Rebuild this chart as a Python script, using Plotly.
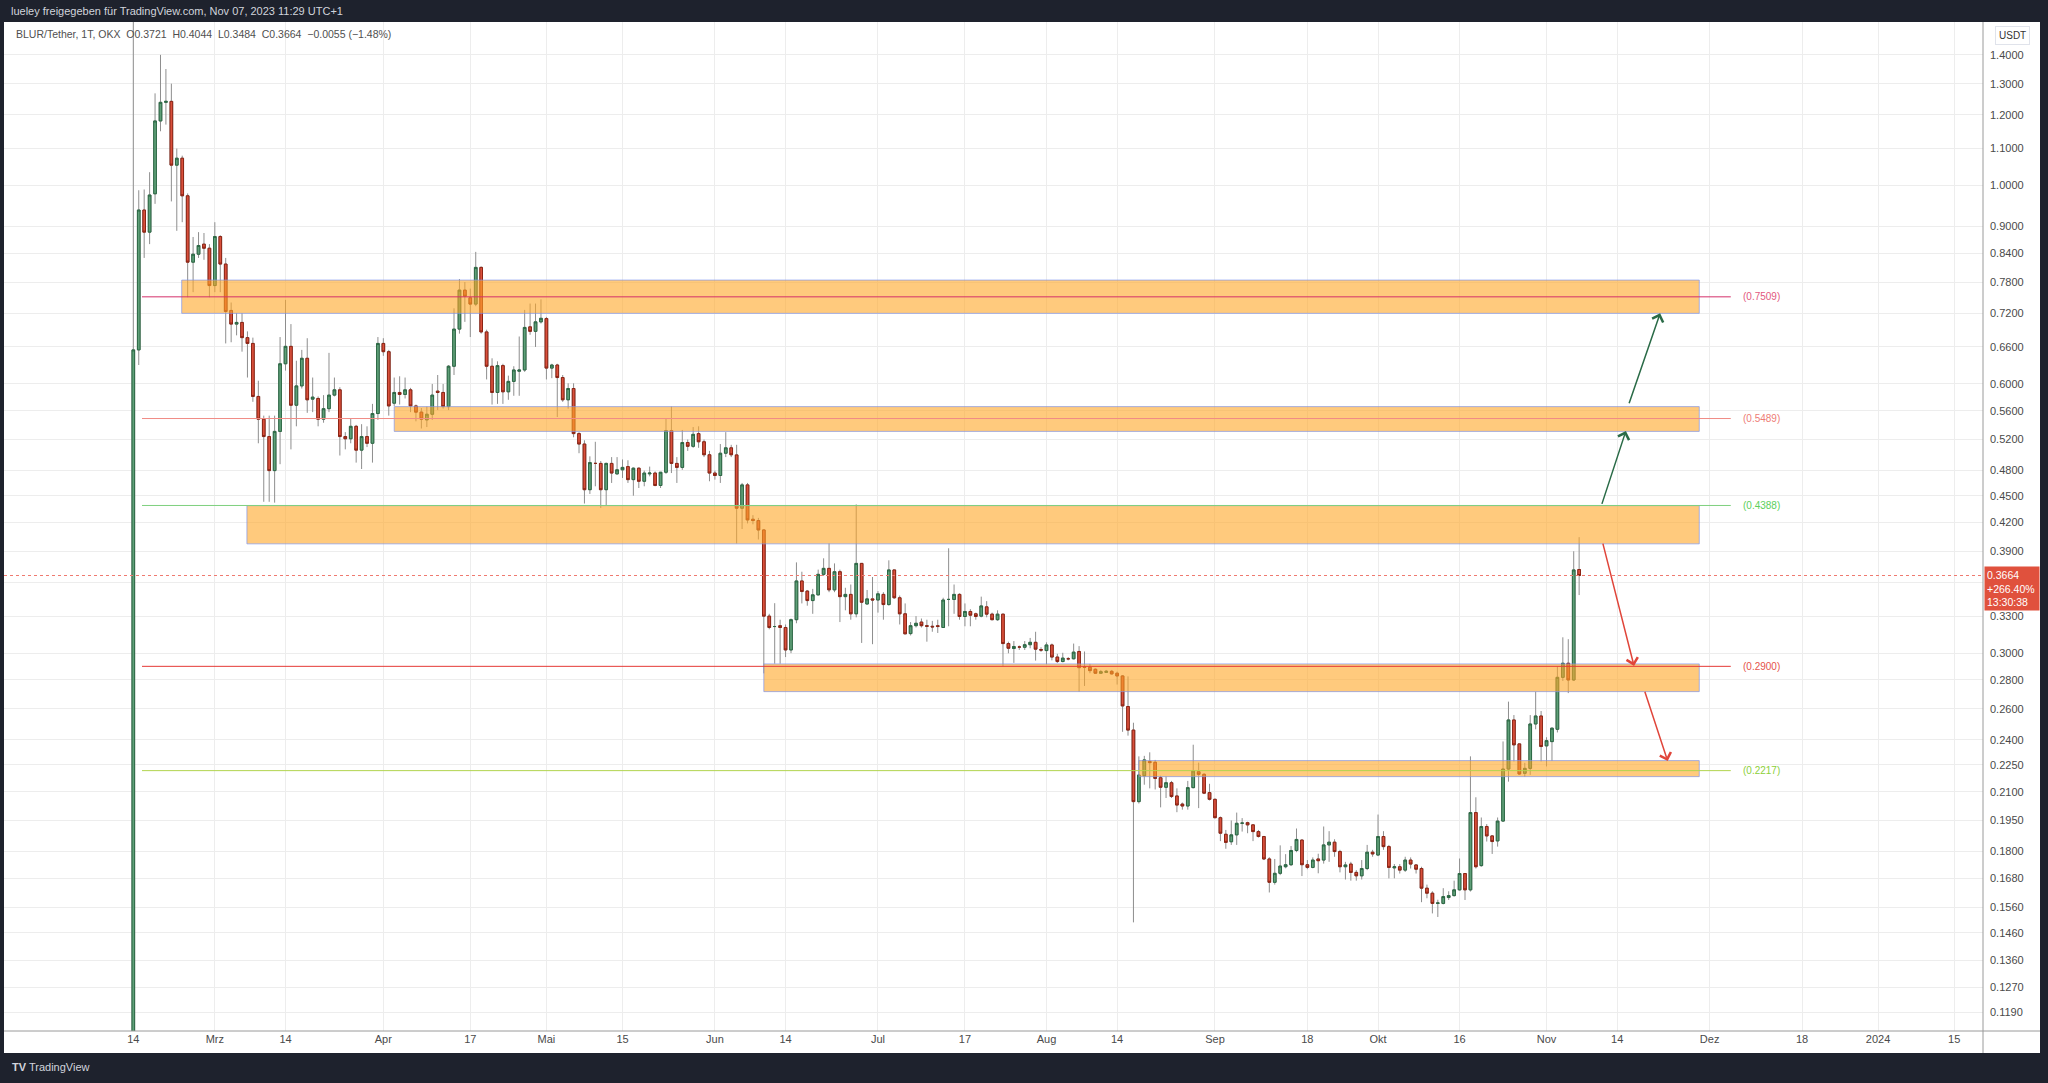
import numpy as np
import pandas as pd
import plotly.graph_objects as go

FIRST_DAY = "2023-02-14"

open_ = [
    0.100, 0.655, 0.939, 0.887, 0.979, 1.181, 1.239, 1.242, 1.054, 1.073,
    0.974, 0.821, 0.838, 0.860, 0.851, 0.773, 0.877, 0.817, 0.725, 0.700,
    0.703, 0.676, 0.666, 0.581, 0.548, 0.524, 0.480, 0.531, 0.632, 0.661,
    0.568, 0.597, 0.641, 0.577, 0.578, 0.548, 0.563, 0.583, 0.591, 0.524,
    0.521, 0.538, 0.506, 0.524, 0.515, 0.556, 0.666, 0.652, 0.571, 0.587,
    0.584, 0.591, 0.567, 0.558, 0.547, 0.555, 0.589, 0.587, 0.566, 0.628,
    0.691, 0.764, 0.749, 0.737, 0.810, 0.686, 0.628, 0.587, 0.629, 0.588,
    0.604, 0.620, 0.622, 0.695, 0.687, 0.704, 0.710, 0.625, 0.630, 0.610,
    0.576, 0.593, 0.528, 0.514, 0.457, 0.489, 0.489, 0.457, 0.489, 0.476,
    0.481, 0.485, 0.469, 0.483, 0.467, 0.476, 0.477, 0.462, 0.478, 0.532,
    0.489, 0.484, 0.516, 0.511, 0.528, 0.517, 0.500, 0.477, 0.474, 0.502,
    0.509, 0.4998, 0.4357, 0.4627, 0.4235, 0.4221, 0.412, 0.330, 0.3213, 0.322,
    0.3205, 0.3025, 0.327, 0.3613, 0.352, 0.3435, 0.3486, 0.3675, 0.3732, 0.3531,
    0.370, 0.347, 0.349, 0.332, 0.378, 0.3405, 0.345, 0.344, 0.349, 0.340,
    0.3717, 0.346, 0.332, 0.3155, 0.322, 0.325, 0.322, 0.3215, 0.322, 0.3205,
    0.3445, 0.3445, 0.349, 0.3297, 0.334, 0.332, 0.330, 0.338, 0.3317, 0.327,
    0.3317, 0.3075, 0.3036, 0.3048, 0.3046, 0.3066, 0.3085, 0.3028, 0.302, 0.3064,
    0.297, 0.2936, 0.2957, 0.2957, 0.3013, 0.2895, 0.2893, 0.2878, 0.2849, 0.2855,
    0.2863, 0.2849, 0.2829, 0.2615, 0.2461, 0.2047, 0.2188, 0.227, 0.2265, 0.2177,
    0.2124, 0.2149, 0.2077, 0.2034, 0.2024, 0.2122, 0.2211, 0.2196, 0.2095, 0.2059,
    0.1964, 0.1882, 0.1846, 0.1879, 0.1936, 0.1939, 0.1928, 0.1895, 0.1871, 0.1766,
    0.1663, 0.1702, 0.1731, 0.174, 0.1805, 0.1854, 0.174, 0.1728, 0.1766, 0.1761,
    0.1831, 0.1844, 0.18, 0.1731, 0.1743, 0.1706, 0.1691, 0.1723, 0.1797, 0.1784,
    0.1871, 0.1823, 0.1726, 0.1731, 0.1716, 0.1761, 0.1739, 0.1723, 0.1638, 0.1617,
    0.1575, 0.1575, 0.1599, 0.1607, 0.1631, 0.1701, 0.1631, 0.199, 0.1736, 0.192,
    0.1874, 0.185, 0.1947, 0.2226, 0.2526, 0.2375, 0.2202, 0.223, 0.25, 0.2552,
    0.2363, 0.2389, 0.2466, 0.2819, 0.2923, 0.280, 0.3721,
]
high_ = [
    2.000, 0.988, 0.990, 1.035, 1.268, 1.400, 1.350, 1.300, 1.100, 1.080,
    0.980, 0.876, 0.887, 0.885, 0.860, 0.910, 0.880, 0.830, 0.740, 0.720,
    0.720, 0.687, 0.676, 0.605, 0.553, 0.553, 0.553, 0.677, 0.745, 0.700,
    0.637, 0.655, 0.675, 0.610, 0.581, 0.583, 0.650, 0.610, 0.595, 0.530,
    0.549, 0.540, 0.541, 0.538, 0.570, 0.677, 0.675, 0.655, 0.610, 0.612,
    0.610, 0.594, 0.569, 0.564, 0.566, 0.600, 0.614, 0.600, 0.630, 0.729,
    0.786, 0.780, 0.767, 0.843, 0.812, 0.690, 0.641, 0.636, 0.632, 0.613,
    0.628, 0.678, 0.726, 0.738, 0.738, 0.746, 0.713, 0.632, 0.632, 0.614,
    0.601, 0.601, 0.530, 0.519, 0.498, 0.517, 0.492, 0.490, 0.497, 0.497,
    0.494, 0.493, 0.484, 0.484, 0.480, 0.485, 0.479, 0.478, 0.549, 0.566,
    0.497, 0.533, 0.520, 0.537, 0.538, 0.520, 0.505, 0.480, 0.514, 0.530,
    0.513, 0.513, 0.465, 0.465, 0.428, 0.425, 0.413, 0.332, 0.3412, 0.327,
    0.323, 0.328, 0.379, 0.370, 0.353, 0.354, 0.372, 0.383, 0.398, 0.378,
    0.372, 0.355, 0.358, 0.440, 0.378, 0.353, 0.365, 0.352, 0.351, 0.381,
    0.3717, 0.348, 0.341, 0.325, 0.330, 0.328, 0.327, 0.326, 0.327, 0.346,
    0.393, 0.358, 0.350, 0.341, 0.336, 0.333, 0.347, 0.343, 0.333, 0.335,
    0.332, 0.309, 0.3095, 0.306, 0.3095, 0.312, 0.317, 0.3046, 0.3085, 0.3075,
    0.2995, 0.3003, 0.297, 0.3075, 0.3055, 0.3013, 0.2918, 0.2885, 0.2873, 0.2873,
    0.2873, 0.2861, 0.2836, 0.2826, 0.2508, 0.230, 0.2303, 0.2324, 0.2279, 0.2188,
    0.2184, 0.2159, 0.2118, 0.2042, 0.2159, 0.237, 0.2263, 0.2203, 0.2143, 0.2064,
    0.197, 0.1903, 0.195, 0.199, 0.1962, 0.1944, 0.1931, 0.1903, 0.1874, 0.1774,
    0.1766, 0.1829, 0.1788, 0.1826, 0.191, 0.1857, 0.1761, 0.1773, 0.179, 0.192,
    0.1897, 0.1858, 0.1808, 0.1753, 0.1753, 0.1716, 0.1761, 0.1831, 0.1808, 0.198,
    0.1897, 0.1831, 0.1743, 0.1743, 0.1776, 0.1773, 0.1743, 0.1731, 0.1653, 0.1625,
    0.159, 0.1638, 0.1625, 0.167, 0.1768, 0.1701, 0.230, 0.207, 0.1965, 0.1932,
    0.1878, 0.1965, 0.239, 0.2648, 0.2558, 0.2375, 0.2262, 0.2558, 0.2717, 0.2585,
    0.2416, 0.2478, 0.2898, 0.3125, 0.311, 0.390, 0.4044,
]
low_ = [
    0.090, 0.630, 0.830, 0.860, 0.954, 1.150, 1.170, 0.960, 0.890, 0.910,
    0.750, 0.760, 0.830, 0.826, 0.750, 0.760, 0.760, 0.666, 0.668, 0.680,
    0.652, 0.610, 0.573, 0.515, 0.443, 0.443, 0.442, 0.488, 0.621, 0.507,
    0.538, 0.593, 0.557, 0.558, 0.538, 0.543, 0.558, 0.581, 0.499, 0.507,
    0.515, 0.490, 0.482, 0.510, 0.490, 0.547, 0.645, 0.553, 0.567, 0.569,
    0.578, 0.558, 0.545, 0.535, 0.537, 0.547, 0.561, 0.563, 0.561, 0.614,
    0.683, 0.704, 0.677, 0.733, 0.683, 0.607, 0.569, 0.570, 0.570, 0.576,
    0.582, 0.582, 0.619, 0.681, 0.660, 0.701, 0.607, 0.609, 0.551, 0.573,
    0.563, 0.523, 0.502, 0.441, 0.452, 0.461, 0.436, 0.439, 0.465, 0.475,
    0.471, 0.465, 0.450, 0.459, 0.461, 0.473, 0.461, 0.459, 0.476, 0.477,
    0.465, 0.481, 0.505, 0.509, 0.509, 0.497, 0.467, 0.469, 0.465, 0.497,
    0.497, 0.398, 0.413, 0.419, 0.418, 0.402, 0.2848, 0.319, 0.292, 0.292,
    0.297, 0.300, 0.324, 0.341, 0.339, 0.332, 0.348, 0.366, 0.351, 0.351,
    0.325, 0.335, 0.327, 0.329, 0.308, 0.340, 0.307, 0.333, 0.327, 0.339,
    0.345, 0.323, 0.315, 0.314, 0.3205, 0.3205, 0.309, 0.317, 0.316, 0.3205,
    0.3215, 0.332, 0.327, 0.3215, 0.3215, 0.327, 0.329, 0.329, 0.3265, 0.326,
    0.290, 0.2999, 0.2926, 0.3025, 0.3025, 0.3038, 0.2943, 0.301, 0.2915, 0.2945,
    0.2925, 0.293, 0.2945, 0.2952, 0.2717, 0.2757, 0.2849, 0.2844, 0.2844, 0.2853,
    0.284, 0.2767, 0.245, 0.2426, 0.150, 0.2037, 0.2138, 0.2118, 0.2112, 0.2017,
    0.2066, 0.2066, 0.1992, 0.2005, 0.2005, 0.2118, 0.2013, 0.2087, 0.2053, 0.1961,
    0.1849, 0.1813, 0.1831, 0.1831, 0.1895, 0.1887, 0.1849, 0.1866, 0.1761, 0.162,
    0.1653, 0.1694, 0.1724, 0.1734, 0.1797, 0.169, 0.172, 0.1724, 0.1702, 0.1745,
    0.1753, 0.1776, 0.1706, 0.1675, 0.167, 0.167, 0.1675, 0.1716, 0.1776, 0.1779,
    0.1808, 0.168, 0.168, 0.1701, 0.1708, 0.1723, 0.1701, 0.158, 0.1596, 0.1535,
    0.1521, 0.1571, 0.1589, 0.1603, 0.1628, 0.1589, 0.1624, 0.1723, 0.1731, 0.1847,
    0.1789, 0.1823, 0.1943, 0.2155, 0.227, 0.2193, 0.2183, 0.2193, 0.2466, 0.227,
    0.2241, 0.2273, 0.2446, 0.2793, 0.2707, 0.2793, 0.3484,
]
close_ = [
    0.655, 0.939, 0.887, 0.976, 1.181, 1.239, 1.242, 1.054, 1.073, 0.974,
    0.821, 0.838, 0.857, 0.851, 0.773, 0.877, 0.817, 0.723, 0.700, 0.703,
    0.676, 0.666, 0.581, 0.548, 0.524, 0.480, 0.531, 0.632, 0.661, 0.568,
    0.597, 0.641, 0.576, 0.580, 0.548, 0.563, 0.583, 0.591, 0.524, 0.521,
    0.538, 0.506, 0.524, 0.515, 0.556, 0.666, 0.652, 0.567, 0.587, 0.584,
    0.591, 0.567, 0.558, 0.548, 0.555, 0.583, 0.587, 0.566, 0.628, 0.691,
    0.764, 0.752, 0.737, 0.810, 0.686, 0.628, 0.587, 0.629, 0.588, 0.604,
    0.622, 0.622, 0.694, 0.687, 0.704, 0.7105, 0.625, 0.630, 0.610, 0.576,
    0.593, 0.528, 0.514, 0.457, 0.490, 0.489, 0.457, 0.489, 0.477, 0.481,
    0.484, 0.469, 0.483, 0.467, 0.477, 0.477, 0.462, 0.478, 0.532, 0.489,
    0.484, 0.516, 0.511, 0.527, 0.517, 0.500, 0.477, 0.474, 0.502, 0.509,
    0.500, 0.4357, 0.4627, 0.4228, 0.4221, 0.412, 0.330, 0.3205, 0.3213, 0.3205,
    0.3025, 0.327, 0.3613, 0.3516, 0.3435, 0.3486, 0.3675, 0.3732, 0.3531, 0.370,
    0.347, 0.349, 0.332, 0.378, 0.342, 0.345, 0.344, 0.3495, 0.340, 0.3717,
    0.346, 0.332, 0.3153, 0.322, 0.324, 0.322, 0.3215, 0.321, 0.3213, 0.344,
    0.3445, 0.349, 0.3297, 0.334, 0.3308, 0.3297, 0.3388, 0.3317, 0.327, 0.3317,
    0.3075, 0.3038, 0.3052, 0.3048, 0.3066, 0.3085, 0.3031, 0.3024, 0.3064, 0.297,
    0.2936, 0.2962, 0.2957, 0.3008, 0.289, 0.2893, 0.2868, 0.2849, 0.286, 0.2863,
    0.2844, 0.2829, 0.2619, 0.2461, 0.2047, 0.2192, 0.2279, 0.2263, 0.2173, 0.2124,
    0.2149, 0.2074, 0.2029, 0.2024, 0.2122, 0.2215, 0.2196, 0.2092, 0.2059, 0.1964,
    0.1887, 0.1843, 0.1879, 0.1936, 0.1937, 0.1928, 0.1895, 0.1871, 0.1766, 0.1663,
    0.1702, 0.1734, 0.174, 0.1805, 0.1857, 0.174, 0.1728, 0.1761, 0.1758, 0.1831,
    0.1844, 0.18, 0.1731, 0.1739, 0.1706, 0.1691, 0.1723, 0.1797, 0.1789, 0.1871,
    0.1823, 0.1728, 0.1731, 0.1716, 0.1761, 0.1743, 0.172, 0.1638, 0.1617, 0.1575,
    0.1577, 0.1603, 0.1607, 0.1631, 0.1701, 0.1631, 0.199, 0.1731, 0.192, 0.1874,
    0.1847, 0.1947, 0.2226, 0.2526, 0.2369, 0.2198, 0.223, 0.25, 0.2552, 0.2359,
    0.2395, 0.2473, 0.2819, 0.2923, 0.280, 0.3717, 0.3664,
]

# grid levels of the price scale; 0.36 has a grid line but its label is hidden by the price tag
y_ticks = [1.4, 1.3, 1.2, 1.1, 1.0, 0.9, 0.84, 0.78, 0.72, 0.66, 0.6, 0.56, 0.52,
           0.48, 0.45, 0.42, 0.39, 0.36, 0.33, 0.30, 0.28, 0.26, 0.24, 0.225,
           0.21, 0.195, 0.18, 0.168, 0.156, 0.146, 0.136, 0.127, 0.119]
hidden_y_labels = [0.36]
x_tick_dates = ["2023-02-14", "2023-03-01", "2023-03-14", "2023-04-01", "2023-04-17",
                "2023-05-01", "2023-05-15", "2023-06-01", "2023-06-14", "2023-07-01",
                "2023-07-17", "2023-08-01", "2023-08-14", "2023-09-01", "2023-09-18",
                "2023-10-01", "2023-10-16", "2023-11-01", "2023-11-14", "2023-12-01",
                "2023-12-18", "2024-01-01", "2024-01-15"]
x_tick_text = ["14", "Mrz", "14", "Apr", "17", "Mai", "15", "Jun", "14", "Jul", "17",
               "Aug", "14", "Sep", "18", "Okt", "16", "Nov", "14", "Dez", "18", "2024", "15"]

level_values = [0.7509, 0.5489, 0.4388, 0.2900, 0.2217]
level_colors = ["#d4306a", "#f08c86", "#7fd07f", "#e53935", "#b2d44e"]
level_text_colors = ["#e2587e", "#ee7c76", "#5ccf5c", "#e5534b", "#8ccf3a"]

zone_top = [0.784, 0.566, 0.4386, 0.2918, 0.2275]
zone_bottom = [0.7196, 0.531, 0.3975, 0.2717, 0.2183]
zone_start_day = [8.9, 48.0, 20.9, 116.0, 185.0]
zone_end_day = 288.1
level_start_day, level_end_day, level_label_day = 1.6, 293.9, 295.8

# hand-drawn arrows: (start day, start price, end day, end price, color)
arrow_start_day = [270.1, 275.1, 270.3, 278.0]
arrow_start_price = [0.4389, 0.5686, 0.3993, 0.2726]
arrow_end_day = [274.6, 280.9, 276.1, 282.3]
arrow_end_price = [0.5316, 0.7196, 0.2903, 0.2272]
arrow_colors = ["#2a6b47", "#2a6b47", "#e0453a", "#e0453a"]

last_price = 0.3664
header_text = ("BLUR/Tether, 1T, OKX\u00a0\u00a0O0.3721\u00a0\u00a0H0.4044\u00a0\u00a0"
               "L0.3484\u00a0\u00a0C0.3664\u00a0\u00a0\u22120.0055 (\u22121.48%)")
top_text = "lueley freigegeben für TradingView.com, Nov 07, 2023 11:29 UTC+1"
price_box_text = "0.3664<br>+266.40%<br>13:30:38"

# ---------------------------------------------------------------------------
n = min(len(open_), len(high_), len(low_), len(close_))
o = np.array(open_[:n]); h = np.array(high_[:n]); l = np.array(low_[:n]); c = np.array(close_[:n])
h = np.maximum(h, np.maximum(o, c))
l = np.minimum(l, np.minimum(o, c))
dates = pd.date_range(FIRST_DAY, periods=n, freq="D")
base = pd.Timestamp(FIRST_DAY)


def day(x):
    return base + pd.Timedelta(days=float(x))


x_range = [day(-23.79), day(340.3)]

INC_FILL, INC_LINE = "#5f9f78", "#2b6844"
DEC_FILL, DEC_LINE = "#d9503c", "#8c2414"
WICK = "#8e8e8e"

fig = go.Figure()
# wicks
fig.add_trace(go.Candlestick(
    x=dates, open=o, high=h, low=l, close=c,
    increasing=dict(line=dict(color=WICK, width=1), fillcolor=INC_FILL),
    decreasing=dict(line=dict(color=WICK, width=1), fillcolor=DEC_FILL),
    hoverinfo="skip"))
# bodies
fig.add_trace(go.Candlestick(
    x=dates, open=o, high=np.maximum(o, c), low=np.minimum(o, c), close=c,
    increasing=dict(line=dict(color=INC_LINE, width=1), fillcolor=INC_FILL),
    decreasing=dict(line=dict(color=DEC_LINE, width=1), fillcolor=DEC_FILL),
    hoverinfo="skip"))

# zones
for top, bot, s in zip(zone_top, zone_bottom, zone_start_day):
    xs = [day(s), day(zone_end_day), day(zone_end_day), day(s), day(s)]
    ys = [bot, bot, top, top, bot]
    fig.add_trace(go.Scatter(x=xs, y=ys, mode="lines", fill="toself",
                             fillcolor="rgba(255,167,38,0.6)",
                             line=dict(color="rgba(120,145,240,0.65)", width=1),
                             hoverinfo="skip"))

# level lines
for v, col in zip(level_values, level_colors):
    fig.add_trace(go.Scatter(x=[day(level_start_day), day(level_end_day)], y=[v, v],
                             mode="lines", line=dict(color=col, width=1), hoverinfo="skip"))

# last price dotted line
fig.add_trace(go.Scatter(x=x_range, y=[last_price, last_price], mode="lines",
                         line=dict(color="#ef7a70", width=1, dash="dot"), hoverinfo="skip"))

annotations = []
for v, col in zip(level_values, level_text_colors):
    annotations.append(dict(x=day(level_label_day), y=np.log10(v), xref="x", yref="y",
                            text=f"({v:.4f})", showarrow=False, xanchor="left",
                            yanchor="middle", font=dict(size=10, color=col)))

for sd, sp, ed, ep, col in zip(arrow_start_day, arrow_start_price, arrow_end_day,
                               arrow_end_price, arrow_colors):
    annotations.append(dict(x=day(ed), y=np.log10(ep), ax=day(sd), ay=np.log10(sp),
                            xref="x", yref="y", axref="x", ayref="y", text="",
                            showarrow=True, arrowhead=4, arrowsize=1.5, arrowwidth=1.5,
                            arrowcolor=col))

PW, PH = 1979.0, 1009.0  # plot area size in px (x: 4..1983, y: 22..1031)


def px(xp):
    return (xp - 4) / PW


def py(yp):
    return (1031 - yp) / PH


annotations += [
    dict(x=px(9), y=py(11), xref="paper", yref="paper", text=top_text, showarrow=False,
         xanchor="left", yanchor="middle", font=dict(size=11, color="#d1d4dc")),
    dict(x=px(14), y=py(34), xref="paper", yref="paper", text=header_text, showarrow=False,
         xanchor="left", yanchor="middle", font=dict(size=10.5, color="#4f4f4f")),
    dict(x=px(10), y=py(1067), xref="paper", yref="paper",
         text="<b>TV</b> TradingView", showarrow=False,
         xanchor="left", yanchor="middle", font=dict(size=11, color="#d1d4dc")),
    dict(x=px(2012), y=py(35), xref="paper", yref="paper", text="USDT", showarrow=False,
         xanchor="center", yanchor="middle", font=dict(size=10, color="#333333"),
         bgcolor="#ffffff", bordercolor="#e0e3eb", borderwidth=1, borderpad=3),
    dict(x=px(1984), y=np.log10(last_price), xref="paper", yref="y", text=price_box_text,
         showarrow=False, xanchor="left", yanchor="top", yshift=10, align="left",
         font=dict(size=10.5, color="#ffffff"), bgcolor="#e0513d", borderpad=2, width=50),
]

shapes = [
    dict(type="rect", xref="paper", yref="paper", x0=px(4), x1=px(2040), y0=py(1053),
         y1=py(22), fillcolor="#ffffff", line=dict(width=0), layer="below"),
    dict(type="line", xref="paper", yref="paper", x0=px(4), x1=px(2040), y0=0, y1=0,
         line=dict(color="#9a9a9a", width=1)),
    dict(type="line", xref="paper", yref="paper", x0=1, x1=1, y0=py(1053), y1=1,
         line=dict(color="#9a9a9a", width=1)),
]

y_tick_text = ["" if v in hidden_y_labels else f"{v:.4f}" for v in y_ticks]

fig.update_layout(
    width=2048, height=1083,
    margin=dict(l=4, r=65, t=22, b=52),
    paper_bgcolor="#1e222d", plot_bgcolor="#ffffff",
    showlegend=False, boxgap=0.3,
    font=dict(family="Liberation Sans, Arial, sans-serif", size=11, color="#4a4a4a"),
    xaxis=dict(type="date", range=x_range, tickmode="array", tickvals=x_tick_dates,
               ticktext=x_tick_text, showgrid=True, gridcolor="#ededed", gridwidth=1,
               zeroline=False, showline=False, ticks="",
               rangeslider=dict(visible=False), tickfont=dict(size=11, color="#4a4a4a")),
    yaxis=dict(type="log", side="right", range=[np.log10(0.1134), np.log10(1.5237)],
               tickmode="array", tickvals=y_ticks, ticktext=y_tick_text,
               showgrid=True, gridcolor="#ededed", zeroline=False, showline=False,
               ticks="", ticklabelstandoff=6, tickfont=dict(size=11, color="#4a4a4a")),
    annotations=annotations, shapes=shapes,
)

fig.write_html("out.html", include_plotlyjs=True, config={"displayModeBar": False})
